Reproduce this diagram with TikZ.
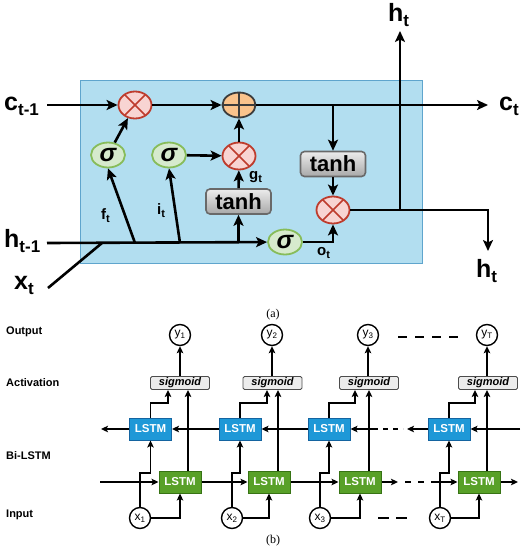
\documentclass[tikz,border=0pt]{standalone}
\usepackage{fontspec}
\setmainfont{Liberation Sans}
\newfontfamily\seriffam{Liberation Serif}
\usetikzlibrary{shapes.geometric,arrows.meta}

\definecolor{cellbg}{RGB}{178,222,240}
\definecolor{cellbd}{RGB}{95,165,205}
\definecolor{mulfill}{RGB}{248,212,210}
\definecolor{mulred}{RGB}{190,60,45}
\definecolor{plusfill}{RGB}{250,195,140}
\definecolor{plusbd}{RGB}{60,60,60}
\definecolor{sigfill}{RGB}{214,234,205}
\definecolor{sigbd}{RGB}{135,188,90}
\definecolor{tanhtop}{RGB}{236,236,236}
\definecolor{tanhbot}{RGB}{168,168,168}
\definecolor{tanhbd}{RGB}{105,105,105}
\definecolor{lstmblue}{RGB}{30,152,215}
\definecolor{lstmbluebd}{RGB}{20,100,160}
\definecolor{lstmgreen}{RGB}{88,160,40}
\definecolor{lstmgreenbd}{RGB}{55,115,20}
\definecolor{sigmbox}{RGB}{236,236,236}

\newcommand\biglab[2]{{\fontsize{25}{25}\selectfont\bfseries #1\raisebox{-0.45ex}{\fontsize{17}{17}\selectfont #2}}}
\newcommand\smlab[2]{{\fontsize{15}{15}\selectfont\bfseries #1\raisebox{-0.4ex}{\fontsize{11}{11}\selectfont #2}}}
\newcommand\sigtxt{{\fontsize{25}{25}\selectfont\bfseries\itshape σ}}

\tikzset{
  bigarrow/.style={line width=2.6pt, -{Stealth[length=11pt,width=10pt,inset=2.5pt]}},
  bigline/.style={line width=2.6pt},
  mulnode/.style={ellipse, draw=mulred, fill=mulfill, line width=1.8pt, minimum width=33pt, minimum height=27pt, inner sep=0pt},
  plusnode/.style={ellipse, draw=plusbd, fill=plusfill, line width=1.8pt, minimum width=33pt, minimum height=25pt, inner sep=0pt},
  signode/.style={ellipse, draw=sigbd, fill=sigfill, line width=1.8pt, minimum width=34pt, minimum height=25pt, inner sep=0pt},
  tanhnode/.style={rectangle, rounded corners=4pt, draw=tanhbd, top color=tanhtop, bottom color=tanhbot, line width=1.6pt, minimum width=65pt, minimum height=25pt, inner sep=0pt, font=\fontsize{22}{22}\selectfont\bfseries},
  arr/.style={line width=1.4pt, -{Stealth[length=7pt,width=6.5pt,inset=1.5pt]}},
  ln/.style={line width=1.4pt},
  bluebox/.style={rectangle, fill=lstmblue, draw=lstmbluebd, line width=1pt, minimum width=42pt, minimum height=22pt, inner sep=0pt, text=white, font=\fontsize{11.5}{11.5}\selectfont\bfseries},
  greenbox/.style={rectangle, fill=lstmgreen, draw=lstmgreenbd, line width=1pt, minimum width=42pt, minimum height=22pt, inner sep=0pt, text=white, font=\fontsize{11.5}{11.5}\selectfont\bfseries},
  sigbox/.style={rectangle, rounded corners=1.5pt, fill=sigmbox, draw=black!70, line width=0.9pt, minimum width=59pt, minimum height=13pt, inner sep=0pt, font=\fontsize{11}{11}\selectfont\bfseries\itshape},
  iocirc/.style={circle, draw=black, line width=1.4pt, fill=white, minimum size=21pt, inner sep=0pt, font=\fontsize{12}{12}\selectfont},
  rowlab/.style={anchor=west, inner sep=0pt, font=\fontsize{11}{11}\selectfont\bfseries},
}

\begin{document}
\begin{tikzpicture}[x=1pt,y=-1pt]
\useasboundingbox (0,0) rectangle (524,550);

% ---------------- (a) LSTM cell ----------------
\draw[fill=cellbg, draw=cellbd, line width=1pt] (80,80) rectangle (422,263);

\node[mulnode] (m1) at (135,105) {};
\node[plusnode] (pl) at (239,105) {};
\node[signode] (s1) at (108,155) {\sigtxt};
\node[signode] (s2) at (169,155) {\sigtxt};
\node[mulnode] (m2) at (239,156) {};
\node[tanhnode] (t1) at (238.5,201.5) {tanh};
\node[signode] (s3) at (285,242) {\sigtxt};
\node[tanhnode] (t2) at (333,164) {tanh};
\node[mulnode] (m3) at (333,210) {};

\foreach \n in {m1,m2,m3}{
  \draw[mulred, line width=1.6pt, shorten <=1.2pt, shorten >=1.2pt] (\n.45) -- (\n.225);
  \draw[mulred, line width=1.6pt, shorten <=1.2pt, shorten >=1.2pt] (\n.135) -- (\n.315);
}
\draw[plusbd, line width=1.6pt] (pl.north) -- (pl.south);
\draw[plusbd, line width=1.6pt] (pl.east) -- (pl.west);

\coordinate (cin) at (47,105);
\coordinate (cout) at (488,105);
\coordinate (cbr) at (333,105);
\coordinate (hin) at (47,243);
\coordinate (hf) at (135,243);
\coordinate (hi) at (180,243);
\coordinate (hg) at (238.5,243);
\coordinate (xin) at (48,288);
\coordinate (xj) at (102,243);
\coordinate (hbr) at (400,210);
\coordinate (hup) at (400,31);
\coordinate (hdn) at (488,251);

\draw[bigarrow] (cin) -- (m1);
\draw[bigarrow] (m1) -- (pl);
\draw[bigarrow] (pl) -- (cout);
\draw[bigarrow] (cbr) -- (t2);
\draw[bigarrow] (t2) -- (m3);
\draw[bigarrow] (s1) -- (m1);
\draw[bigarrow] (s2) -- (m2);
\draw[bigarrow] (m2) -- (pl);
\draw[bigarrow] (t1) -- (m2);
\draw[bigarrow] (hin) -- (s3);
\draw[bigarrow] (hg) -- (t1);
\draw[bigarrow] (hf) -- (s1.south);
\draw[bigarrow] (hi) -- (s2.south);
\draw[bigline] (xin) -- (xj);
\draw[bigarrow] (s3) -| (m3);
\draw[bigarrow] (m3) -| (hdn);
\draw[bigarrow] (hbr) -- (hup);

\node[anchor=base west, inner sep=0pt] (lcin) at (4,110) {\biglab{c}{t-1}};
\node[anchor=base west, inner sep=0pt] (lhin) at (4,247) {\biglab{h}{t-1}};
\node[anchor=base west, inner sep=0pt] (lxin) at (14,289) {\biglab{x}{t}};
\node[anchor=base west, inner sep=0pt] (lcout) at (499,110) {\biglab{c}{t}};
\node[anchor=base west, inner sep=0pt] (lhup) at (388,21) {\biglab{h}{t}};
\node[anchor=base west, inner sep=0pt] (lhdn) at (476,277) {\biglab{h}{t}};

\node[anchor=base west, inner sep=0pt] (lf) at (101,219) {\smlab{f}{t}};
\node[anchor=base west, inner sep=0pt] (li) at (157,214) {\smlab{i}{t}};
\node[anchor=base west, inner sep=0pt] (lg) at (249,179) {\smlab{g}{t}};
\node[anchor=base west, inner sep=0pt] (lo) at (317,255) {\smlab{o}{t}};

\node[font=\seriffam\fontsize{12}{12}\selectfont, inner sep=0pt] (capa) at (273,315) {(a)};

% ---------------- (b) Bi-LSTM ----------------
\node[rowlab] (rlo) at (6,332) {Output};
\node[rowlab] (rla) at (6,383) {Activation};
\node[rowlab] (rlb) at (6,456) {Bi-LSTM};
\node[rowlab] (rli) at (6,515) {Input};

\foreach \i/\sx/\bx/\gx/\xx/\rx/\ux/\yx in {
   1/180/150.5/180/140/168/188/180,
   2/272.5/240/269/232/267/278/272,
   3/369/329/360/320/355/369/368,
   T/488/449/479/440/475/487/487}{
  \node[iocirc] (y\i) at (\yx,335) {y\textsubscript{\i}};
  \node[sigbox] (sg\i) at (\sx,383) {sigmoid};
  \node[bluebox] (bl\i) at (\bx,429) {LSTM};
  \node[greenbox] (gr\i) at (\gx,482) {LSTM};
  \node[iocirc] (x\i) at (\xx,518) {x\textsubscript{\i}};
  \coordinate (rt\i) at (\rx,403);
  \coordinate (up\i) at (\ux,403);
  \coordinate (jg\i) at (\xx,473);
  \draw[arr] (y\i |- sg\i.north) -- (y\i.south);
  \draw[arr] (gr\i.north -| up\i) -- (sg\i.south -| up\i);
  \draw[arr] (bl\i.north) |- (rt\i) -- (sg\i.south -| rt\i);
  \draw[arr] (x\i.north) -- (jg\i) -| (bl\i.south);
  \draw[arr] (x\i.east) -| (gr\i.south);
}

\coordinate (gin) at (100,482);
\coordinate (bout) at (101,429);
\coordinate (bin) at (520,429);
\coordinate (gout) at (518,482);
\draw[arr] (gin) -- (gr1.west);
\draw[arr] (gr1.east) -- (gr2.west);
\draw[arr] (gr2.east) -- (gr3.west);
\draw[arr] (grT.east) -- (gout);
\draw[arr] (bl1.west) -- (bout);
\draw[arr] (bl2.west) -- (bl1.east);
\draw[arr] (bl3.west) -- (bl2.east);
\draw[arr] (bin) -- (blT.east);

% gaps with dashes
\coordinate (bd1) at (373,429);
\coordinate (bd2) at (403,429);
\coordinate (bd3) at (407,429);
\draw[arr] (bd1) -- (bl3.east);
\draw[ln, dash pattern=on 5pt off 5pt] (bd1) -- (bd2);
\draw[arr] (blT.west) -- (bd3);

\coordinate (gd1) at (398,482);
\coordinate (gd2) at (405,482);
\coordinate (gd3) at (437,482);
\draw[arr] (gr3.east) -- (gd1);
\draw[ln, dash pattern=on 6pt off 7pt] (gd2) -- (gd3);
\draw[arr] (gd3) -- (grT.west);

\coordinate (yd1) at (398,337);
\coordinate (yd2) at (459,337);
\draw[ln, dash pattern=on 9pt off 8pt] (yd1) -- (yd2);

\coordinate (xd1) at (378,518);
\coordinate (xd2) at (409,518);
\draw[ln, dash pattern=on 11pt off 7pt] (xd1) -- (xd2);

\node[font=\seriffam\fontsize{12}{12}\selectfont, inner sep=0pt] (capb) at (273,541) {(b)};
\end{tikzpicture}
\end{document}
